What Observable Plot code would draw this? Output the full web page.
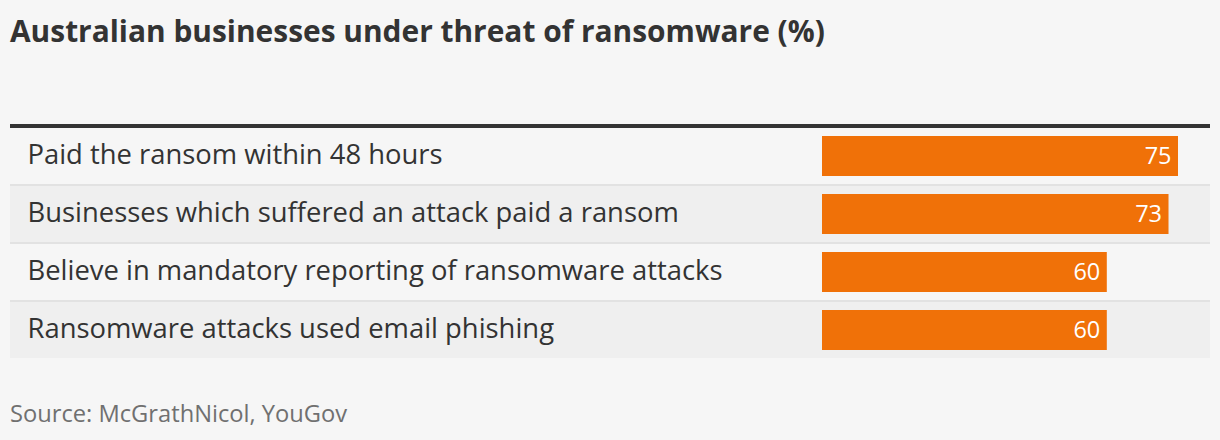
<!DOCTYPE html>
<html>
<head>
<meta charset="utf-8">
<script src="https://cdn.jsdelivr.net/npm/d3@7"></script>
<script src="https://cdn.jsdelivr.net/npm/@observablehq/plot@0.6"></script>
<style>
  html, body { margin: 0; padding: 0; background: #f6f6f6; }
  body { width: 1220px; height: 440px; overflow: hidden; font-family: "Open Sans", sans-serif; }
  #title { box-sizing: border-box; height: 120px; padding: 11px 10px 0 10px; font-weight: 700; font-size: 29.9px; line-height: 40px; color: #333; }
  #chart svg { display: block; }
  #caption { box-sizing: border-box; padding: 28px 10px 0 10px; font-size: 23.7px; line-height: 30px; color: #707070; }
</style>
</head>
<body>
<div id="title">Australian businesses under threat of ransomware (%)</div>
<div id="chart"></div>
<div id="caption">Source: McGrathNicol, YouGov</div>
<script>
const categories = [
  "Paid the ransom within 48 hours",
  "Businesses which suffered an attack paid a ransom",
  "Believe in mandatory reporting of ransomware attacks",
  "Ransomware attacks used email phishing"
];
const values = [75, 73, 60, 60];

const data = categories.map((name, i) => ({name, value: values[i]}));
const shaded = categories.filter((d, i) => i % 2 === 1);
const separated = categories.slice(0, categories.length - 1);

const chart = Plot.plot({
  width: 1220,
  height: 250,
  marginLeft: 10,
  marginRight: 10,
  marginTop: 0,
  marginBottom: 0,
  style: {background: "transparent", fontFamily: "Open Sans"},
  x: {domain: [0, 75], range: [822, 1178], axis: null},
  y: {domain: categories, range: [8, 240], padding: 0, axis: null},
  marks: [
    Plot.ruleY(shaded, {y: d => d, stroke: "#efefef", strokeWidth: 56, dy: -1.5}),
    Plot.ruleY(separated, {y: d => d, stroke: "#e2e2e2", strokeWidth: 2, dy: 27.5}),
    Plot.ruleY([categories[0]], {y: d => d, stroke: "#333333", strokeWidth: 4, dy: -31.5}),
    Plot.barX(data, {x: "value", y: "name", fill: "#f07108", insetTop: 8, insetBottom: 10}),
    Plot.text(data, {y: "name", text: "name", frameAnchor: "left", textAnchor: "start", dx: 17, dy: -2.5, fontSize: 27.4, fill: "#333333"}),
    Plot.text(data, {x: "value", y: "name", text: d => String(d.value), textAnchor: "end", dx: -7, dy: -1, fontSize: 23.5, fill: "white"})
  ]
});
document.getElementById("chart").appendChild(chart);
</script>
</body>
</html>
